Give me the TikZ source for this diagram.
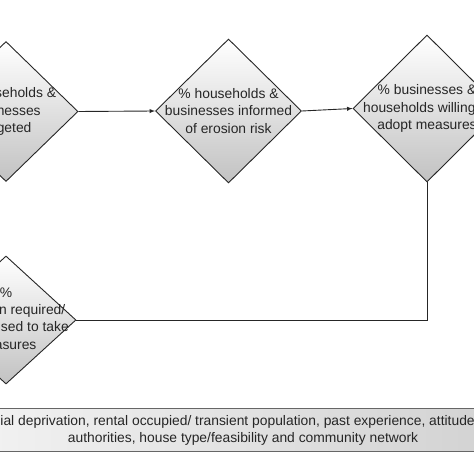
\documentclass[tikz,border=0pt]{standalone}
\usepackage{fontspec}
\setmainfont{Liberation Sans}
\usetikzlibrary{shapes.geometric}
\begin{document}
\begin{tikzpicture}[x=1pt, y=1pt,
        decision/.style={diamond, draw=black!85, line width=0.9pt, inner sep=0pt,
            top color=white, bottom color=black!24},
        boxtext/.style={align=center, text=black!85, font=\fontsize{13.85}{17.2}\selectfont}]
        \useasboundingbox (0, 0) rectangle (474, 474);
        \clip (0, 0) rectangle (474, 474);
        \node[decision, minimum width=144pt, minimum height=140pt] (target) at (6, 362.5) {};
        \node[boxtext] at (target.center) {\% households \&\\businesses\\targeted};
        \node[decision, minimum width=146pt, minimum height=144pt] (inform) at (228.5, 363) {};
        \node[boxtext] at (inform.center) {\% households \&\\businesses informed\\of erosion risk};
        \node[decision, minimum width=148pt, minimum height=147pt] (adopt) at (427, 365.5) {};
        \node[boxtext] at (adopt.center) {\% businesses \&\\households willing to\\adopt measures};
        \node[decision, minimum width=140pt, minimum height=128pt] (refuse) at (6, 154) {};
        \node[boxtext] at (6, 155.5) {\%\\education required/\\have refused to take\\measures};
        \draw[line width=0.9pt, black!85, -latex] (target.east) -- (inform.west);
        \draw[line width=0.9pt, black!85, -latex] (inform.east) -- (adopt.west);
        \draw[line width=0.9pt, black!85] (adopt.south) |- (refuse.east);
        \node[draw=black!60, line width=1pt, left color=black!5, right color=black!18,
            minimum width=540pt, minimum height=43pt] (factors) at (243, 43.5) {};
        \node[boxtext] at (factors.center) {Financial deprivation, rental occupied/ transient population, past experience, attitude towards\\authorities, house type/feasibility and community network};
    \end{tikzpicture}
\end{document}
